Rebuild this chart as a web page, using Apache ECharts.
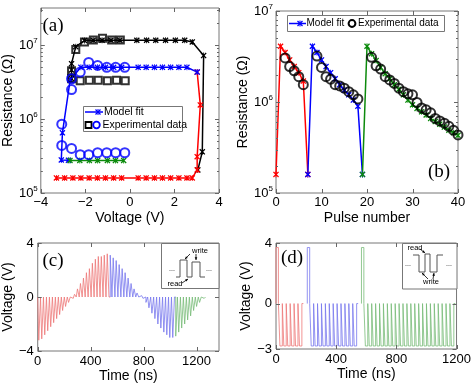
<!DOCTYPE html>
<html><head><meta charset="utf-8">
<script src="https://cdn.jsdelivr.net/npm/echarts@6/dist/echarts.min.js"></script>
<style>html,body{margin:0;padding:0;background:#fff}#c{width:474px;height:384px}</style>
</head><body><div id="c"></div><script>
// ---------- Panel (a): resistance vs voltage ----------
const aRedV = [-3.3,-2.93,-2.56,-2.2,-1.83,-1.46,-1.1,-0.73,-0.37,0.37,0.73,1.1,1.46,1.83,2.2,2.56,2.8,3.02,3.02,3.16,3.02];
const aRedR = [1.6e5,1.6e5,1.6e5,1.6e5,1.6e5,1.6e5,1.6e5,1.6e5,1.6e5,1.6e5,1.6e5,1.6e5,1.6e5,1.6e5,1.6e5,1.6e5,1.6e5,2.05e5,3.1e5,1.55e6,4.3e6];
const aBlueV = [3.02,2.56,2.2,1.83,1.46,1.1,0.73,0.37,-0.37,-0.73,-1.1,-1.46,-1.83,-2.2,-2.68,-3.03,-3.08,-2.76];
const aBlueR = [4.3e6,5.0e6,5.0e6,5.0e6,5.0e6,5.0e6,5.0e6,5.0e6,5.0e6,5.0e6,5.0e6,5.0e6,5.0e6,5.0e6,3.4e6,6.5e5,2.8e5,2.77e5];
const aGreenV = [-2.69,-2.25,-1.82,-1.45,-1.01,-0.65,-0.28];
const aGreenR = [2.75e5,2.75e5,2.75e5,2.75e5,2.75e5,2.75e5,2.75e5];
const aBlackV = [-2.62,-2.62,-2.62,-2.43,-2.04,-1.65,-1.25,-0.85,-0.45,0.31,0.75,1.16,1.6,2.04,2.46,2.8,3.31,3.25,3.05];
const aBlackR = [3.5e6,4.6e6,5.6e6,9.5e6,1.15e7,1.16e7,1.16e7,1.16e7,1.16e7,1.16e7,1.16e7,1.16e7,1.16e7,1.16e7,1.16e7,1.1e7,7.2e6,3.6e5,2.05e5];
const aSqV = [-2.62,-2.62,-2.43,-2.04,-1.64,-1.23,-0.82,-0.43,-2.23,-1.82,-1.42,-1.01,-0.6,-0.21];
const aSqR = [3.5e6,4.5e6,8.7e6,1.1e7,1.17e7,1.23e7,1.17e7,1.17e7,3.3e6,3.35e6,3.35e6,3.3e6,3.35e6,3.3e6];
const aCircV = [-3.06,-3.06,-2.62,-2.62,-2.23,-1.85,-1.45,-1.04,-0.64,-0.23,-2.62,-2.23,-1.85,-1.45,-1.04,-0.64,-0.23];
const aCircR = [8.5e5,4.4e5,2.5e6,3.5e6,4.3e6,5.8e6,5.3e6,5.0e6,5.0e6,5.0e6,4.0e5,3.3e5,3.3e5,3.5e5,3.5e5,3.5e5,3.5e5];
const aXTicks = [-4,-2,0,2,4];

// ---------- Panel (b): resistance vs pulse number ----------
const bRedN = [0,1,2,3,4,5,6,7];
const bRedR = [1.6e5,4.1e6,3.5e6,2.9e6,2.45e6,2.1e6,1.7e6,1.6e5];
const bBlueN = [7,8,9,10,11,12,13,14,15,16,17,18,19];
const bBlueR = [1.6e5,4.1e6,3.5e6,2.9e6,2.45e6,2.1e6,1.8e6,1.55e6,1.35e6,1.2e6,1.05e6,0.9e6,1.6e5];
const bGreenN = [19,20,21,22,23,24,25,26,27,28,29,30,31,32,33,34,35,36,37,38,39,40];
const bGreenR = [1.6e5,4.1e6,3.4e6,2.85e6,2.4e6,2.05e6,1.8e6,1.55e6,1.38e6,1.2e6,1.05e6,0.93e6,0.85e6,0.78e6,0.72e6,0.66e6,0.61e6,0.57e6,0.53e6,0.49e6,0.46e6,0.43e6];
const bExpN = [2,3,4,5,6,9,10,11,12,13,14,15,16,17,18,21,22,23,24,25,26,27,28,29,30,31,32,33,34,35,36,37,38,39,40];
const bExpR = [3.05e6,2.45e6,2.2e6,1.9e6,1.55e6,3.2e6,2.4e6,1.9e6,1.78e6,1.55e6,1.5e6,1.42e6,1.3e6,1.2e6,1.08e6,3.1e6,2.5e6,2.3e6,1.9e6,1.75e6,1.6e6,1.42e6,1.3e6,1.23e6,1.2e6,0.99e6,0.86e6,0.82e6,0.76e6,0.66e6,0.62e6,0.585e6,0.54e6,0.49e6,0.435e6];
const bXTicks = [0,10,20,30,40];

// ---------- Panel (c): sweep waveform (pulse amplitudes, V) ----------
const cStart = 8, cPeriod = 22.5, cWidth = 13;
const cRedAmp = [-3.2,-3.1,-2.8,-2.5,-2.2,-1.9,-1.6,-1.3,-1.0,-0.7,-0.4,-0.1,0.2,0.6,1.0,1.4,1.8,2.1,2.5,2.8,3.0,3.0,3.1,3.2];
const cBlueAmp = [3.1,2.9,2.7,2.4,2.1,1.8,1.4,1.0,0.6,0.3,0.1,-0.1,-0.4,-0.8,-1.2,-1.6,-2.0,-2.3,-2.6,-2.8,-3.0,-3.0];
const cGreenAmp = [-2.9,-2.6,-2.3,-2.0,-1.7,-1.4,-1.0,-0.7,-0.4,-0.1];
const cXTicks = [0,400,800,1200];

// ---------- Panel (d): pulse train (amplitudes, V) ----------
const dPeriod = 26, dWidth = 16;
const dRedStart = 0, dBlueStart = 208, dGreenStart = 568;
const dRedAmp = [3.7,-2.8,-2.8,-2.8,-2.8,-2.8,-2.8];
const dBlueAmp = [3.7,-2.8,-2.8,-2.8,-2.8,-2.8,-2.8,-2.8,-2.8,-2.8,-2.8,-2.8,-2.8];
const dGreenAmp = [3.7,-2.8,-2.8,-2.8,-2.8,-2.8,-2.8,-2.8,-2.8,-2.8,-2.8,-2.8,-2.8,-2.8,-2.8,-2.8,-2.8,-2.8,-2.8,-2.8,-2.8,-2.8,-2.8,-2.8];
const dXTicks = [0,400,800,1200];

// ---------- styling ----------
const F = 'Liberation Sans';
const RED = '#ff0000', BLUE = '#0000ff', GREEN = '#0c8a0c', BLACK = '#000000';
const LRED = '#ee7777', LBLUE = '#7777ee', LGREEN = '#77bb77';
const STAR = 'path://M0,1.5 L1.5,0 L5,3.5 L8.5,0 L10,1.5 L6.5,5 L10,8.5 L8.5,10 L5,6.5 L1.5,10 L0,8.5 L3.5,5 Z M4.3,0 L5.7,0 L5.7,10 L4.3,10 Z';
const zip = (xs, ys) => xs.map((x, i) => [x, ys[i]]);
const minus = v => String(v).replace('-', '\u2212');

function fit(gi, xs, ys, color) {
  return {type:'line', xAxisIndex:gi, yAxisIndex:gi, data: zip(xs, ys), symbol: STAR, symbolSize: 6,
    lineStyle:{color, width:1.5}, itemStyle:{color}, z:2, animation:false};
}
function exp(gi, xs, ys, color, sym, size) {
  return {type:'scatter', xAxisIndex:gi, yAxisIndex:gi, data: zip(xs, ys), symbol: sym, symbolSize: size,
    itemStyle:{color:'rgba(0,0,0,0)', borderColor: color, borderWidth: 2}, z:3, animation:false};
}
function train(start, period, width, amps, lead, tail) {
  const pts = [];
  if (lead !== undefined) pts.push([lead, 0]);
  amps.forEach((a, i) => { const t = start + i * period; pts.push([t, 0], [t, a], [t + width, a], [t + width, 0]); });
  pts.push([tail !== undefined ? tail : start + amps.length * period, 0]);
  return pts;
}
function wave(gi, pts, color) {
  return {type:'line', xAxisIndex:gi, yAxisIndex:gi, data: pts, symbol:'none', lineStyle:{color, width:0.8}, z:2, animation:false};
}
const logMinor = (lo, hi) => { const r = []; for (let e = lo; e < hi; e++) for (let k = 2; k <= 9; k++) r.push(k * Math.pow(10, e)); return r; };
function ticks(gi, xRef, yRef, xt, yt, ym) {
  return {type:'custom', xAxisIndex:gi, yAxisIndex:gi, silent:true, z:6, data:[[xRef, yRef]], animation:false,
    renderItem(params, api) {
      const cs = params.coordSys, ch = [];
      const seg = (x1,y1,x2,y2) => ch.push({type:'line', shape:{x1,y1,x2,y2}, style:{stroke:'#666', lineWidth:1}});
      xt.forEach(v => { const x = Math.round(api.coord([v, yRef])[0]) + 0.5; seg(x, cs.y+cs.height, x, cs.y+cs.height-4); seg(x, cs.y, x, cs.y+4); });
      yt.forEach(v => { const y = Math.round(api.coord([xRef, v])[1]) + 0.5; seg(cs.x, y, cs.x+4, y); seg(cs.x+cs.width, y, cs.x+cs.width-4, y); });
      (ym || []).forEach(v => { const p = api.coord([xRef, v])[1]; if (p < cs.y || p > cs.y+cs.height) return; const y = Math.round(p) + 0.5; seg(cs.x, y, cs.x+2, y); seg(cs.x+cs.width, y, cs.x+cs.width-2, y); });
      return {type:'group', children: ch};
    }};
}

const tickLabel = {fontSize:13, fontFamily:F, color:'#000'};
const nameStyle = {fontSize:14, fontFamily:F, color:'#000'};
const plain = v => minus(v);
const logLabel = {
  margin: 3,
  formatter: v => { const e = Math.log10(v); if (Math.abs(e - Math.round(e)) > 1e-6) return ''; return '{b|10}{s|' + Math.round(e) + '}'; },
  rich: { b:{fontSize:13, fontFamily:F, color:'#000'}, s:{fontSize:8, fontFamily:F, color:'#000', padding:[0,0,9,0]} }
};
const noAxisDeco = {axisLine:{show:false}, axisTick:{show:false}, splitLine:{show:false}};
const gridStyle = {show:true, borderColor:'#777', borderWidth:1, backgroundColor:'transparent'};

const xAxis = [
  Object.assign({type:'value', gridIndex:0, min:-4, max:4, interval:2, name:'Voltage (V)', nameLocation:'middle', nameGap:18, nameTextStyle:nameStyle,
    axisLabel:Object.assign({margin:3, formatter:plain}, tickLabel)}, noAxisDeco),
  Object.assign({type:'value', gridIndex:1, min:0, max:40, interval:10, name:'Pulse number', nameLocation:'middle', nameGap:18, nameTextStyle:nameStyle,
    axisLabel:Object.assign({margin:3, formatter:plain}, tickLabel)}, noAxisDeco),
  Object.assign({type:'value', gridIndex:2, min:0, max:1370, interval:400, name:'Time (ns)', nameLocation:'middle', nameGap:18, nameTextStyle:nameStyle,
    axisLabel:Object.assign({margin:4, showMaxLabel:false, formatter:plain}, tickLabel)}, noAxisDeco),
  Object.assign({type:'value', gridIndex:3, min:0, max:1200, interval:400, name:'Time (ns)', nameLocation:'middle', nameGap:18, nameTextStyle:nameStyle,
    axisLabel:Object.assign({margin:4, formatter:plain}, tickLabel)}, noAxisDeco)
];
const yAxis = [
  Object.assign({type:'log', logBase:10, gridIndex:0, min:1e5, max:Math.pow(10, 7.5), name:'Resistance (\u03A9)', nameLocation:'middle', nameGap:22, nameTextStyle:nameStyle,
    axisLabel:logLabel}, noAxisDeco),
  Object.assign({type:'log', logBase:10, gridIndex:1, min:1e5, max:1e7, name:'Resistance (\u03A9)', nameLocation:'middle', nameGap:22, nameTextStyle:nameStyle,
    axisLabel:logLabel}, noAxisDeco),
  Object.assign({type:'value', gridIndex:2, min:-4, max:4, interval:4, name:'Voltage (V)', nameLocation:'middle', nameGap:16, nameTextStyle:nameStyle,
    axisLabel:Object.assign({margin:4, formatter:plain}, tickLabel)}, noAxisDeco),
  Object.assign({type:'value', gridIndex:3, min:-3, max:4, interval:1, name:'Voltage (V)', nameLocation:'middle', nameGap:16, nameTextStyle:nameStyle,
    axisLabel:Object.assign({margin:4, formatter: v => (v === -3 || v === 0 || v === 4) ? minus(v) : ''}, tickLabel)}, noAxisDeco)
];

const series = [
  // (a)
  fit(0, aBlackV, aBlackR, BLACK),
  fit(0, aRedV, aRedR, RED),
  fit(0, aBlueV, aBlueR, BLUE),
  fit(0, aGreenV, aGreenR, GREEN),
  exp(0, aSqV, aSqR, BLACK, 'rect', 7),
  exp(0, aCircV, aCircR, BLUE, 'circle', 9),
  ticks(0, 0, 1e6, aXTicks, [1e5,1e6,1e7], logMinor(5, 8)),
  // (b)
  fit(1, bRedN, bRedR, RED),
  fit(1, bBlueN, bBlueR, BLUE),
  fit(1, bGreenN, bGreenR, GREEN),
  exp(1, bExpN, bExpR, BLACK, 'circle', 9),
  ticks(1, 20, 1e6, bXTicks, [1e5,1e6,1e7], logMinor(5, 7)),
  // (c)
  wave(2, train(cStart, cPeriod, cWidth, cRedAmp, 0), LRED),
  wave(2, train(cStart + cRedAmp.length * cPeriod, cPeriod, cWidth, cBlueAmp), LBLUE),
  wave(2, train(cStart + (cRedAmp.length + cBlueAmp.length) * cPeriod, cPeriod, cWidth, cGreenAmp), LGREEN),
  ticks(2, 600, 0, cXTicks, [-4,0,4]),
  // (d)
  wave(3, train(dRedStart, dPeriod, dWidth, dRedAmp), LRED),
  wave(3, train(dBlueStart, dPeriod, dWidth, dBlueAmp), LBLUE),
  wave(3, train(dGreenStart, dPeriod, dWidth, dGreenAmp), LGREEN),
  ticks(3, 600, 0, dXTicks, [-3,0,4])
];

// legend / inset / panel label graphics
const G = [];
const txt = (x, y, s, size, fam, align) => G.push({type:'text', z:100, style:{x, y, text:s, fontSize:size, fontFamily:fam||F, fill:'#000', textAlign:align||'left', textVerticalAlign:'middle'}});
const ln = (pts, color, w) => G.push({type:'polyline', z:100, shape:{points:pts}, style:{stroke:color, lineWidth:w||1, fill:null}});
const box = (x, y, w, h) => G.push({type:'rect', z:99, shape:{x, y, width:w, height:h}, style:{fill:'#fff', stroke:'#777', lineWidth:1}});
const star = (x, y, c) => { ln([[x-2.5,y-2.5],[x+2.5,y+2.5]], c, 1.2); ln([[x-2.5,y+2.5],[x+2.5,y-2.5]], c, 1.2); ln([[x,y-3],[x,y+3]], c, 1); };
const arrow = (x1, y1, x2, y2) => { ln([[x1,y1],[x2,y2]], '#000', 0.8); const a = Math.atan2(y2-y1, x2-x1); const L = 3;
  G.push({type:'polygon', z:100, shape:{points:[[x2,y2],[x2-L*Math.cos(a-0.45), y2-L*Math.sin(a-0.45)],[x2-L*Math.cos(a+0.45), y2-L*Math.sin(a+0.45)]]}, style:{fill:'#000'}}); };

// (a) legend
box(83.5, 106.5, 99, 25);
ln([[85,112],[103,112]], BLUE, 1.5); star(98, 112, BLUE);
txt(104, 112, 'Model fit', 10.5);
G.push({type:'rect', z:100, shape:{x:85.5, y:122, width:6, height:6}, style:{fill:'none', stroke:'#000', lineWidth:1.8}});
G.push({type:'circle', z:100, shape:{cx:96.5, cy:125, r:3.3}, style:{fill:'none', stroke:BLUE, lineWidth:1.8}});
txt(102.5, 125.5, 'Experimental data', 10.5);
// (b) legend
box(287.5, 15.5, 157, 16);
ln([[289,23.5],[306,23.5]], BLUE, 1.5); star(300, 23.5, BLUE);
txt(306.5, 23.5, 'Model fit', 10);
G.push({type:'circle', z:100, shape:{cx:352, cy:23.5, r:3.4}, style:{fill:'none', stroke:'#000', lineWidth:2}});
txt(358, 23.5, 'Experimental data', 10);
// panel labels
txt(53, 26, '(a)', 19, 'Liberation Serif', 'center');
txt(439, 172, '(b)', 19, 'Liberation Serif', 'center');
txt(53, 261, '(c)', 19, 'Liberation Serif', 'center');
txt(292, 258, '(d)', 19, 'Liberation Serif', 'center');
// (c) inset
box(161.5, 243.5, 57.5, 45);
txt(172, 269, '...', 7, F, 'center'); txt(209, 269, '...', 7, F, 'center');
ln([[176,277],[180,277],[180,260],[187,260],[187,277],[192,277],[192,262],[200,262],[200,277],[205,277]], '#555', 1);
txt(200, 251, 'write', 7.5, F, 'center'); txt(175, 283.5, 'read', 7.5, F, 'center');
arrow(190, 254, 185, 259); arrow(196, 254, 196, 260); arrow(182, 283, 188, 279);
// (d) inset
box(402.5, 243.5, 54.5, 45.5);
txt(408, 264, '...', 7, F, 'center'); txt(449, 264, '...', 7, F, 'center');
ln([[413,255],[419,255],[419,272],[425,272],[425,254],[430,254],[430,272],[437,272],[437,255],[443,255]], '#555', 1);
txt(415, 248, 'read', 7.5, F, 'center'); txt(431, 282, 'write', 7.5, F, 'center');
arrow(420, 249, 425, 253); arrow(428, 279, 422, 273); arrow(433, 279, 434, 273);

const chart = echarts.init(document.getElementById('c'), null, {renderer:'canvas'});
chart.setOption({
  animation:false,
  backgroundColor:'#fff',
  textStyle:{fontFamily:F},
  grid:[
    Object.assign({left:37, top:8, width:182, height:185}, gridStyle),
    Object.assign({left:276, top:11, width:182, height:182}, gridStyle),
    Object.assign({left:37, top:243, width:182, height:109}, gridStyle),
    Object.assign({left:276, top:243, width:181, height:106}, gridStyle)
  ],
  xAxis, yAxis, series, graphic: G
});
</script></body></html>
